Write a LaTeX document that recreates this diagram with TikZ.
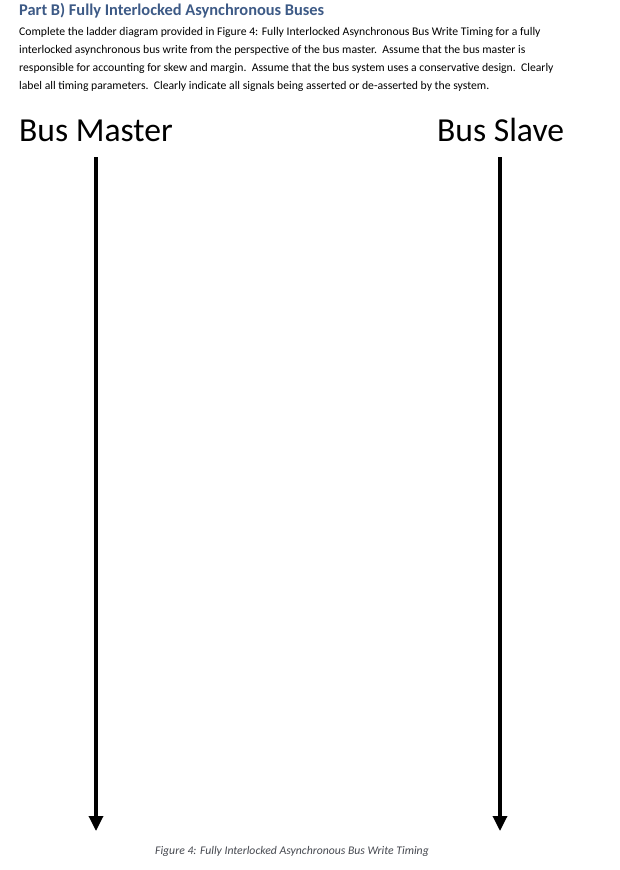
\documentclass[tikz,border=0pt]{standalone}
\usepackage{fontspec}
\setmainfont{Carlito}
\usepackage{xcolor}
\usetikzlibrary{arrows, arrows.meta, positioning}
\definecolor{headblue}{HTML}{3D5A86}
\definecolor{capgray}{HTML}{45484F}
\tikzstyle{heading} = [anchor=base west, inner sep=0pt, text=headblue, font=\fontsize{16.4}{19}\selectfont\bfseries]
\tikzstyle{para} = [anchor=base west, inner sep=0pt, font=\fontsize{11.7}{14}\selectfont]
\tikzstyle{party} = [anchor=base west, inner sep=0pt, font=\fontsize{33.6}{38}\selectfont]
\tikzstyle{caption} = [anchor=base, inner sep=0pt, text=capgray, font=\fontsize{11.7}{14}\selectfont\itshape]
\tikzstyle{lifeline} = [draw, line width=3.3pt, -{Triangle[length=15pt, width=14pt]}]

\begin{document}
\begin{tikzpicture}[x=1pt, y=-1pt]
    \useasboundingbox (0,0) rectangle (620,870);
    % Text
    \node [heading] (title) at (19,15) {Part B) Fully Interlocked Asynchronous Buses};
    \node [para] (l1) at (19,35) {Complete the ladder diagram provided in Figure 4: Fully Interlocked Asynchronous Bus Write Timing for a fully};
    \node [para] (l2) at (19,53) {interlocked asynchronous bus write from the perspective of the bus master.\ \ Assume that the bus master is};
    \node [para] (l3) at (19,71) {responsible for accounting for skew and margin.\ \ Assume that the bus system uses a conservative design.\ \ Clearly};
    \node [para] (l4) at (19,89) {label all timing parameters.\ \ Clearly indicate all signals being asserted or de-asserted by the system.};
    \node [party] (master) at (19,141) {Bus Master};
    \node [party] (slave) at (437,141) {Bus Slave};
    \node [caption] (fig) at (292,854) {Figure 4: Fully Interlocked Asynchronous Bus Write Timing};

    % Lines
    \coordinate (mtop) at (96,157);
    \coordinate (mend) at (96,831);
    \coordinate (stop) at (500,157);
    \coordinate (send) at (500,831);
    \path [lifeline] (mtop) -- (mend);
    \path [lifeline] (stop) -- (send);

\end{tikzpicture}
\end{document}
